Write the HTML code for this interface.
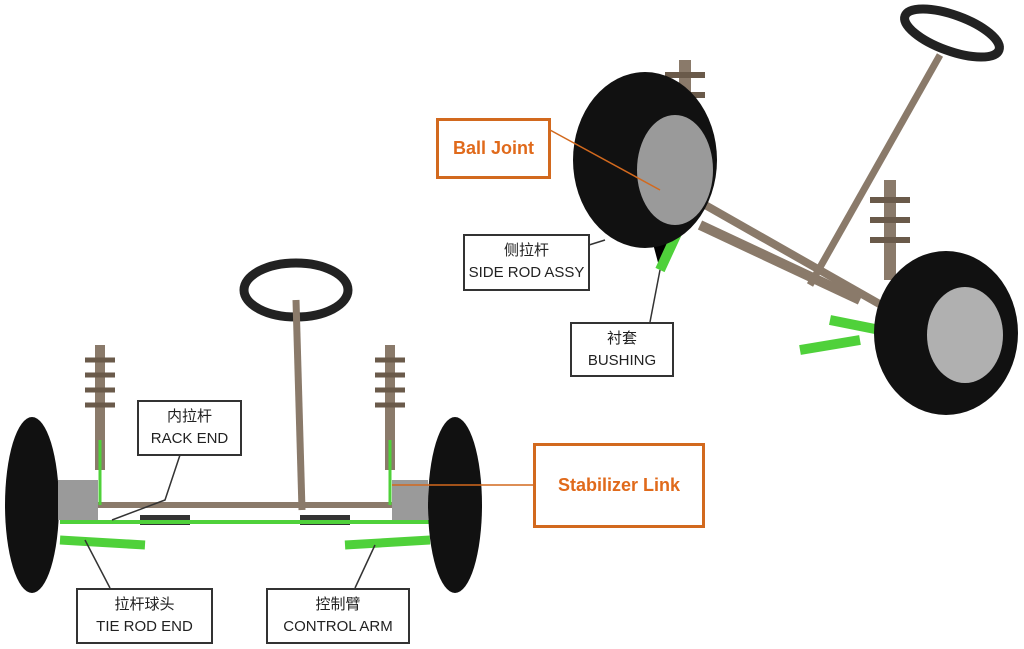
<!DOCTYPE html>
<html><head><meta charset="utf-8"><style>
body{margin:0;background:#fff;}
.b{position:absolute;background:#fff;border:2px solid #333;text-align:center;font-family:"Liberation Sans","Noto Sans CJK SC",sans-serif;color:#222;font-size:15px;line-height:22px;box-sizing:border-box;padding-top:4px}
.o{position:absolute;border:3px solid #d2691e;background:#fff;color:#e06a1b;font-family:"Liberation Sans",sans-serif;font-weight:bold;font-size:18px;display:flex;align-items:center;justify-content:center;box-sizing:border-box}
</style></head><body>
<div style="position:relative;width:1024px;height:649px;overflow:hidden">
<svg width="1024" height="649" style="position:absolute;left:0;top:0">
<!-- left view -->
<ellipse cx="296" cy="290" rx="52" ry="27" fill="none" stroke="#222" stroke-width="9"/>
<path d="M296 300 L302 510" stroke="#8a7a6a" stroke-width="7"/>
<path d="M60 505 L430 505" stroke="#8a7a6a" stroke-width="6"/>
<path d="M140 520 L190 520 M300 520 L350 520" stroke="#333" stroke-width="10"/>
<path d="M60 522 L430 522" stroke="#4fd13a" stroke-width="4"/>
<path d="M60 540 L145 545 M345 545 L430 540" stroke="#4fd13a" stroke-width="9"/>
<path d="M100 345 L100 470 M390 345 L390 470" stroke="#8a7a6a" stroke-width="10"/>
<path d="M85 360 L115 360 M85 375 L115 375 M85 390 L115 390 M85 405 L115 405 M375 360 L405 360 M375 375 L405 375 M375 390 L405 390 M375 405 L405 405" stroke="#6a5a4a" stroke-width="5"/>
<path d="M100 440 L100 505 M390 440 L390 505" stroke="#4fd13a" stroke-width="3"/>
<ellipse cx="32" cy="505" rx="27" ry="88" fill="#111"/>
<ellipse cx="455" cy="505" rx="27" ry="88" fill="#111"/>
<rect x="58" y="480" width="40" height="40" fill="#9a9a9a"/>
<rect x="392" y="480" width="36" height="40" fill="#9a9a9a"/>
<!-- right view -->
<ellipse cx="952" cy="33" rx="50" ry="18" transform="rotate(20 952 33)" fill="none" stroke="#222" stroke-width="9"/>
<path d="M940 55 L810 285" stroke="#8a7a6a" stroke-width="7"/>
<path d="M670 185 L890 310" stroke="#8a7a6a" stroke-width="8"/>
<path d="M700 225 L860 300" stroke="#8a7a6a" stroke-width="10"/>
<path d="M640 195 L690 205 L660 270 M830 320 L880 330 M800 350 L860 340" stroke="#4fd13a" stroke-width="10"/>
<path d="M685 60 L685 160 M890 180 L890 280" stroke="#8a7a6a" stroke-width="12"/>
<path d="M665 75 L705 75 M665 95 L705 95 M665 115 L705 115 M870 200 L910 200 M870 220 L910 220 M870 240 L910 240" stroke="#6a5a4a" stroke-width="6"/>
<ellipse cx="645" cy="160" rx="72" ry="88" fill="#111"/>
<ellipse cx="675" cy="170" rx="38" ry="55" fill="#9a9a9a"/>
<ellipse cx="946" cy="333" rx="72" ry="82" fill="#111"/>
<ellipse cx="965" cy="335" rx="38" ry="48" fill="#b0b0b0"/>
<!-- leaders -->
<g stroke="#333" stroke-width="1.5" fill="none">
<path d="M550 130 L660 190" stroke="#d2691e"/>
<path d="M589 245 L605 240"/>
<path d="M650 322 L660 270"/>
<path d="M180 455 L165 500 L112 520"/>
<path d="M533 485 L392 485" stroke="#d2691e"/>
<path d="M110 588 L85 540"/>
<path d="M355 588 L375 545"/>
</g>
</svg>
<div class="o" style="left:436px;top:118px;width:115px;height:61px">Ball Joint</div>
<div class="b" style="left:463px;top:234px;width:127px;height:57px">侧拉杆<br>SIDE ROD ASSY</div>
<div class="b" style="left:570px;top:322px;width:104px;height:55px">衬套<br>BUSHING</div>
<div class="b" style="left:137px;top:400px;width:105px;height:56px">内拉杆<br>RACK END</div>
<div class="o" style="left:533px;top:443px;width:172px;height:85px">Stabilizer Link</div>
<div class="b" style="left:76px;top:588px;width:137px;height:56px">拉杆球头<br>TIE ROD END</div>
<div class="b" style="left:266px;top:588px;width:144px;height:56px">控制臂<br>CONTROL ARM</div>
</div>
</body></html>
